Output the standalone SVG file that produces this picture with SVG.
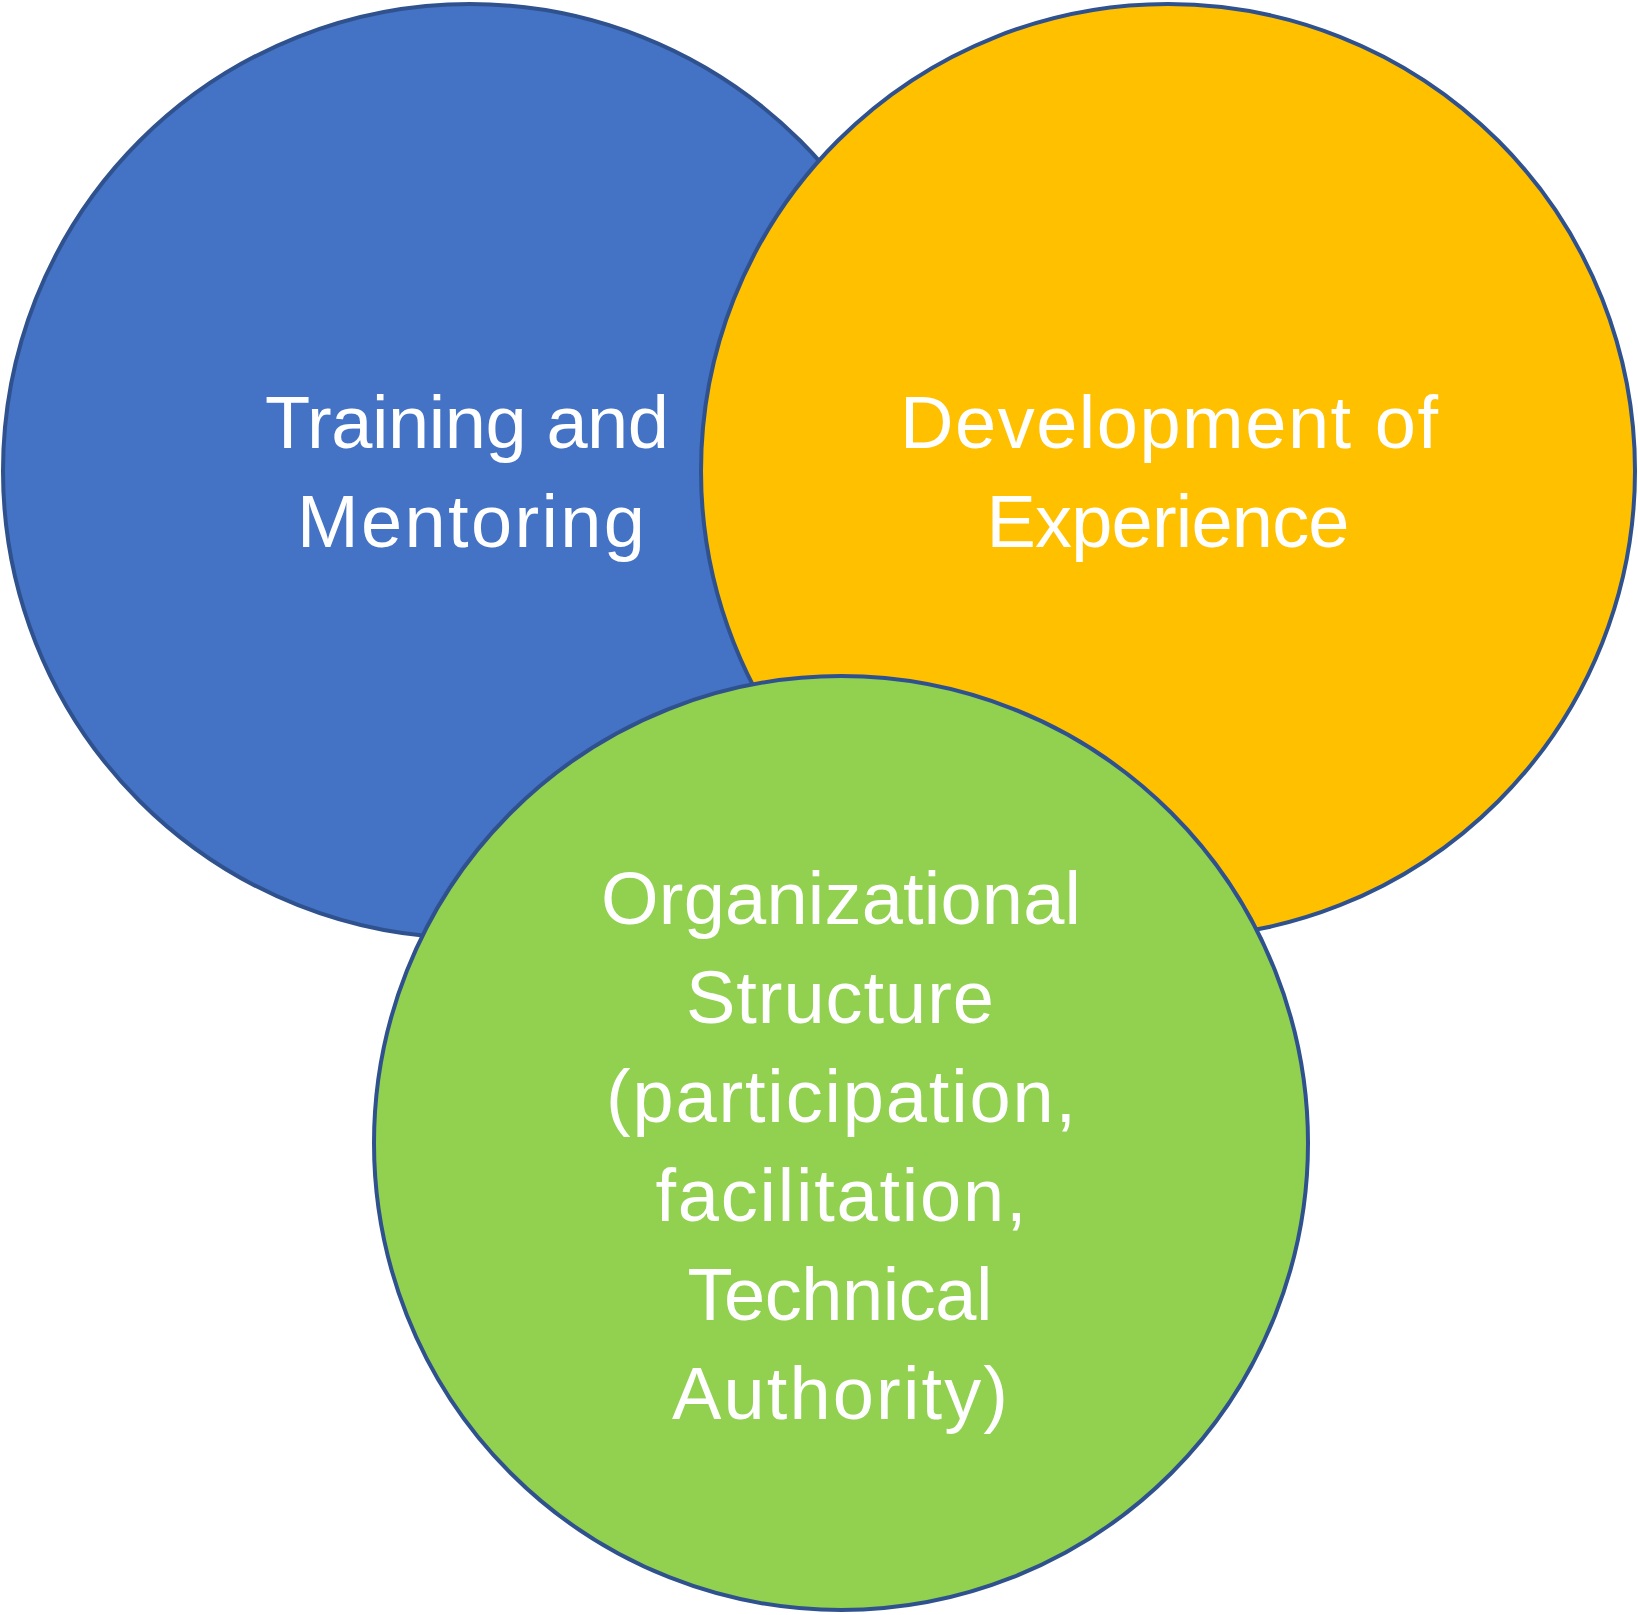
<svg xmlns="http://www.w3.org/2000/svg" width="1638" height="1615" viewBox="0 0 1638 1615">
<style>
.c{stroke:#2F528F;stroke-width:4}
.t{font-family:"Liberation Sans",Arial,sans-serif;font-size:74px;fill:#FFFFFF;text-anchor:middle}
</style>
<rect width="1638" height="1615" fill="#FFFFFF"/>
<g id="training">
<circle class="c" cx="470" cy="471" r="467" fill="#4472C4"/>
<text class="t" x="467" y="448" textLength="404" lengthAdjust="spacing">Training and</text>
<text class="t" x="471" y="547" textLength="348" lengthAdjust="spacing">Mentoring</text>
</g>
<g id="experience">
<circle class="c" cx="1168" cy="471" r="467" fill="#FFC000"/>
<text class="t" x="1169" y="448" textLength="538" lengthAdjust="spacing">Development of</text>
<text class="t" x="1168" y="547" textLength="363" lengthAdjust="spacing">Experience</text>
</g>
<g id="structure">
<circle class="c" cx="841" cy="1143" r="467" fill="#92D050"/>
<text class="t" x="841" y="924" textLength="480" lengthAdjust="spacing">Organizational</text>
<text class="t" x="840" y="1023" textLength="308" lengthAdjust="spacing">Structure</text>
<text class="t" x="841" y="1122" textLength="470" lengthAdjust="spacing">(participation,</text>
<text class="t" x="841" y="1221" textLength="371" lengthAdjust="spacing">facilitation,</text>
<text class="t" x="840" y="1320" textLength="305" lengthAdjust="spacing">Technical</text>
<text class="t" x="840" y="1419" textLength="336" lengthAdjust="spacing">Authority)</text>
</g>
<g id="connectors"/>
</svg>
